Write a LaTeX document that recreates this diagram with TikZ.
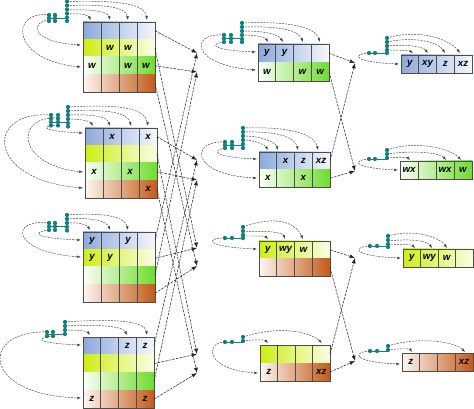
\documentclass[tikz,border=0pt]{standalone}
\usepackage{fontspec}
\setmainfont{Liberation Sans}
\usetikzlibrary{arrows.meta}
\definecolor{blL}{HTML}{8DA9DD}\definecolor{blR}{HTML}{F4F7FC}
\definecolor{yeL}{HTML}{CDEE12}\definecolor{yeR}{HTML}{FAFDE6}
\definecolor{grL}{HTML}{FBFEF8}\definecolor{grR}{HTML}{6FDD2E}
\definecolor{brL}{HTML}{FDF6F1}\definecolor{brR}{HTML}{C45A18}
\definecolor{dotc}{HTML}{128282}
\tikzset{
 cellline/.style={draw=black!70,line width=0.45pt},
 lab/.style={font=\fontsize{7.3}{8}\selectfont\bfseries\itshape,inner sep=0pt},
 conn/.style={draw=black!85,line width=0.4pt,dash pattern=on 2pt off 0.8pt,-{Latex[length=4pt,width=3pt]}},
 arcc/.style={draw=black!75,line width=0.35pt,dash pattern=on 1.5pt off 0.8pt,-{Latex[length=2.8pt,width=2pt]}},
 link/.style={draw=dotc,line width=0.7pt},
 dotf/.style={fill=dotc},
}
\newcommand\mkgrid[8]{%
 \pgfmathsetmacro\gw{(#4-#2)/4}%
 \pgfmathsetmacro\rh{(#5-#3)/#6}%
 \foreach \rc [count=\j from 0] in {#7}{%
   \pgfmathsetmacro\ya{#3+\j*\rh}%
   \pgfmathsetmacro\yb{#3+(\j+1)*\rh}%
   \shade[left color=\rc L,right color=\rc R] (#2,\ya) rectangle (#4,\yb);
   \draw[cellline] (#2,\yb) -- (#4,\yb);
 }%
 \foreach \i in {1,2,3}{\draw[cellline] ({#2+\i*\gw},#3) -- ({#2+\i*\gw},#5);}%
 \draw[cellline] (#2,#3) rectangle (#4,#5);
 \foreach \r/\k/\t in {#8}{\node[lab,name=#1-\r-\k] at ({#2+(\k-0.5)*\gw},{#3+(\r-0.5)*\rh}) {\t};}%
}
\newcommand\dotcol[2]{\foreach \yy in {#2}{\fill[dotf] (#1,\yy) circle (1.6pt);}}
\begin{document}
\begin{tikzpicture}[x=0.75pt,y=-0.75pt]
\useasboundingbox (0,0) rectangle (474,409);

% ---------- clusters and arcs ----------
% G1
\draw[link] (49,18) -- (67,18);
\dotcol{67}{1.5,5.5,9.5,13.5,17.5,21}\dotcol{49}{15,18,21}\dotcol{55}{15,18,21}
\draw[arcc] (67,1.5) .. controls (125,0) and (145,5) .. (147,20);
\draw[arcc] (67,5.5) .. controls (110,4) and (126,8) .. (128,20);
\draw[arcc] (67,10) .. controls (95,9) and (108,12) .. (110,20);
\draw[arcc] (67,14) .. controls (80,13) and (88,15) .. (91,20);
\draw[arcc] (49,15) .. controls (10,10) and (10,60) .. (81,67);
\draw[arcc] (49,20) .. controls (30,22) and (30,42) .. (81,45);
% G2
\draw[link] (51,122) -- (68,122);
\dotcol{68}{107,111,115,119,123,126.5}\dotcol{51}{115,118.5,122,125.5}\dotcol{58}{115,118.5,122,125.5}
\draw[arcc] (68,107) .. controls (120,104) and (145,108) .. (148,126);
\draw[arcc] (68,111) .. controls (110,109) and (128,113) .. (131,126);
\draw[arcc] (68,115) .. controls (95,114) and (107,117) .. (110,126);
\draw[arcc] (68,119) .. controls (80,119) and (90,121) .. (93,126);
\draw[arcc] (51,115) .. controls (-15,110) and (-15,180) .. (83,188);
\draw[arcc] (58,118) .. controls (15,115) and (15,165) .. (83,172);
\draw[arcc] (58,125) .. controls (40,126) and (40,131) .. (83,133);
% G3
\draw[link] (49,226.5) -- (67,226.5);
\dotcol{67}{215,219,223,227,230.5}\dotcol{49}{223,226.5,230}\dotcol{55}{223,226.5,230}
\draw[arcc] (67,215) .. controls (110,212) and (125,218) .. (128,230);
\draw[arcc] (67,219) .. controls (95,217) and (107,222) .. (110,230);
\draw[arcc] (67,223) .. controls (80,222) and (87,225) .. (90,230);
\draw[arcc] (49,223) .. controls (10,218) and (10,252) .. (81,257);
\draw[arcc] (49,230) .. controls (32,232) and (32,238) .. (81,240);
% G4
\draw[link] (47,334) -- (65,334);
\dotcol{65}{322,326,330,334}\dotcol{47}{332,336}\dotcol{53}{332,336}
\draw[arcc] (65,322) .. controls (120,318) and (145,322) .. (147,335);
\draw[arcc] (65,326) .. controls (105,324) and (123,327) .. (127,335);
\draw[arcc] (65,330) .. controls (78,330) and (87,331) .. (90,335);
\draw[arcc] (47,332) .. controls (-20,330) and (-20,395) .. (81,398);
\draw[arcc] (53,336) .. controls (35,338) and (35,343) .. (81,345);
% M1
\draw[link] (224,38.5) -- (242,38.5);
\dotcol{242}{23,27,31,35,39,42}\dotcol{224}{35,38.5,42}\dotcol{231}{35,38.5,42}
\draw[arcc] (242,23) .. controls (290,21) and (315,27) .. (320,42);
\draw[arcc] (242,27) .. controls (280,26) and (298,30) .. (303,42);
\draw[arcc] (242,31) .. controls (265,31) and (278,34) .. (283,42);
\draw[arcc] (242,35) .. controls (255,35) and (265,37) .. (268,42);
\draw[arcc] (224,35) .. controls (190,32) and (190,65) .. (256,70);
\draw[arcc] (224,42) .. controls (210,44) and (210,50) .. (256,52);
% M2
\draw[link] (225,145) -- (243,145);
\dotcol{243}{128,132,136,140,144,148}\dotcol{225}{142,145,148}\dotcol{232}{142,145,148}
\draw[arcc] (243,128) .. controls (295,126) and (315,136) .. (318,150);
\draw[arcc] (243,132) .. controls (280,131) and (295,138) .. (298,150);
\draw[arcc] (243,136) .. controls (262,136) and (275,142) .. (278,150);
\draw[arcc] (243,140) .. controls (255,140) and (265,145) .. (268,150);
\draw[arcc] (225,142) .. controls (190,140) and (190,175) .. (257,178);
\draw[arcc] (225,148) .. controls (212,150) and (212,157) .. (257,159);
% M3
\draw[link] (225,238) -- (243,238);
\dotcol{243}{227,231,235,238}\dotcol{225}{238}\dotcol{232}{238}
\draw[arcc] (243,227) .. controls (275,215) and (295,222) .. (303,239);
\draw[arcc] (243,232) .. controls (270,230) and (283,233) .. (285,239);
\draw[arcc] (243,236) .. controls (255,236) and (265,236) .. (268,239);
\draw[arcc] (225,238) .. controls (205,238) and (205,247) .. (257,249);
% M4
\draw[link] (225,342) -- (243,342);
\dotcol{243}{337,341}\dotcol{225}{342}\dotcol{232}{342}
\draw[arcc] (243,337) .. controls (280,325) and (310,332) .. (322,343);
\draw[arcc] (243,341) .. controls (258,339) and (265,340) .. (268,343);
\draw[arcc] (225,342) .. controls (205,342) and (205,370) .. (258,373);
% R1
\draw[link] (369,53) -- (387,53);
\dotcol{387}{38,42,46,50,53}\dotcol{369}{53}\dotcol{375}{53}
\draw[arcc] (387,38) .. controls (420,28) and (450,40) .. (460,53);
\draw[arcc] (387,42) .. controls (415,36) and (438,42) .. (445,53);
\draw[arcc] (387,46) .. controls (410,44) and (423,47) .. (428,53);
\draw[arcc] (387,50) .. controls (403,50) and (410,51) .. (413,53);
\draw[arcc] (369,53) .. controls (352,54) and (352,62) .. (399,64);
% R2
\draw[link] (369,159) -- (387,159);
\dotcol{387}{150,154,158}\dotcol{369}{159}\dotcol{375}{159}
\draw[arcc] (387,150) .. controls (415,140) and (450,148) .. (461,160);
\draw[arcc] (387,154) .. controls (415,150) and (440,153) .. (446,160);
\draw[arcc] (387,158) .. controls (400,157) and (408,158) .. (410,160);
\draw[arcc] (369,159) .. controls (352,160) and (352,168) .. (398,170);
% R3
\draw[link] (370,246) -- (388,246);
\dotcol{388}{236,240,244,247}\dotcol{370}{246}\dotcol{377}{246}
\draw[arcc] (388,236) .. controls (415,228) and (440,238) .. (447,248);
\draw[arcc] (388,241) .. controls (415,238) and (428,242) .. (432,248);
\draw[arcc] (388,245) .. controls (405,244) and (412,245) .. (415,248);
\draw[arcc] (370,246) .. controls (352,247) and (352,256) .. (401,258);
% R4
\draw[link] (370,351) -- (388,351);
\dotcol{388}{346,350}\dotcol{370}{351}\dotcol{377}{351}
\draw[arcc] (388,346) .. controls (420,336) and (455,342) .. (465,352);
\draw[arcc] (388,350) .. controls (402,348) and (410,349) .. (412,352);
\draw[arcc] (370,351) .. controls (352,352) and (352,362) .. (400,364);

% ---------- grids ----------
\mkgrid{g1}{83}{22}{155}{92}{4}{bl,ye,gr,br}{2/2/w,2/3/w,3/1/w,3/3/w,3/4/w}
\mkgrid{g2}{85}{128}{157}{198}{4}{bl,ye,gr,br}{1/2/x,1/4/x,3/1/x,3/3/x,4/4/x}
\mkgrid{g3}{83}{232}{155}{302}{4}{bl,ye,gr,br}{1/1/y,1/3/y,2/1/y,2/2/y}
\mkgrid{g4}{83}{337}{154}{408}{4}{bl,ye,gr,br}{1/3/z,1/4/z,4/1/z,4/4/z}
\mkgrid{m1}{258}{44}{329}{81}{2}{bl,gr}{1/1/y,1/2/y,2/1/w,2/3/w,2/4/w}
\mkgrid{m2}{259}{152}{330}{187}{2}{bl,gr}{1/2/x,1/3/z,1/4/xz,2/1/x,2/3/x}
\mkgrid{m3}{259}{241}{330}{276}{2}{ye,br}{1/1/y,1/2/wy,1/3/w}
\mkgrid{m4}{260}{345}{330}{381}{2}{ye,br}{2/1/z,2/4/xz}
\mkgrid{r1}{401}{55}{472}{73}{1}{bl}{1/1/y,1/2/xy,1/3/z,1/4/xz}
\mkgrid{r2}{400}{161}{472}{179}{1}{gr}{1/1/wx,1/3/wx,1/4/w}
\mkgrid{r3}{403}{249}{473}{267}{1}{ye}{1/1/y,1/2/wy,1/3/w}
\mkgrid{r4}{402}{353}{473}{371}{1}{br}{1/1/z,1/4/xz}

% ---------- connector end points ----------
\coordinate (g1r1) at (155,30.75);\coordinate (g1r2) at (155,48.25);
\coordinate (g1r3) at (155,65.75);\coordinate (g1r4) at (155,83.25);
\coordinate (g2r1) at (157,136.75);\coordinate (g2r2) at (157,154.25);
\coordinate (g2r3) at (157,171.75);\coordinate (g2r4) at (157,189.25);
\coordinate (g3r1) at (155,240.75);\coordinate (g3r2) at (155,258.25);
\coordinate (g3r3) at (155,275.75);\coordinate (g3r4) at (155,293.25);
\coordinate (g4r1) at (154,345.9);\coordinate (g4r2) at (154,363.6);
\coordinate (g4r3) at (154,381.4);\coordinate (g4r4) at (154,399.1);
\coordinate (a1a) at (197,53);\coordinate (a1b) at (197,72);
\coordinate (a2a) at (197,160);\coordinate (a2b) at (197,180);
\coordinate (a3a) at (197,248);\coordinate (a3b) at (197,266);
\coordinate (a4a) at (197,354);\coordinate (a4b) at (197,373);
\coordinate (m1r1) at (329,53.25);\coordinate (m1r2) at (329,71.75);
\coordinate (m2r1) at (330,160.75);\coordinate (m2r2) at (330,178.25);
\coordinate (m3r1) at (330,249.75);\coordinate (m3r2) at (330,267.25);
\coordinate (m4r1) at (330,354);\coordinate (m4r2) at (330,372);
\coordinate (b1) at (355,63);\coordinate (b2) at (355,171);
\coordinate (b3) at (355,258);\coordinate (b4) at (355,361);

% ---------- connectors ----------
\draw[conn] (g1r1) -- (a1a); \draw[conn] (g3r1) -- (a1a);
\draw[conn] (g1r3) -- (a1b); \draw[conn] (g3r3) -- (a1b);
\draw[conn] (g2r1) -- (a2a); \draw[conn] (g4r1) -- (a2a);
\draw[conn] (g2r3) -- (a2b); \draw[conn] (g4r3) -- (a2b);
\draw[conn] (g1r2) -- (a3a); \draw[conn] (g3r2) -- (a3a);
\draw[conn] (g1r4) -- (a3b); \draw[conn] (g3r4) -- (a3b);
\draw[conn] (g2r2) -- (a4a); \draw[conn] (g4r2) -- (a4a);
\draw[conn] (g2r4) -- (a4b); \draw[conn] (g4r4) -- (a4b);
\draw[conn] (m1r1) -- (b1); \draw[conn] (m2r1) -- (b1);
\draw[conn] (m1r2) -- (b2); \draw[conn] (m2r2) -- (b2);
\draw[conn] (m3r1) -- (b3); \draw[conn] (m4r1) -- (b3);
\draw[conn] (m3r2) -- (b4); \draw[conn] (m4r2) -- (b4);
\end{tikzpicture}
\end{document}
